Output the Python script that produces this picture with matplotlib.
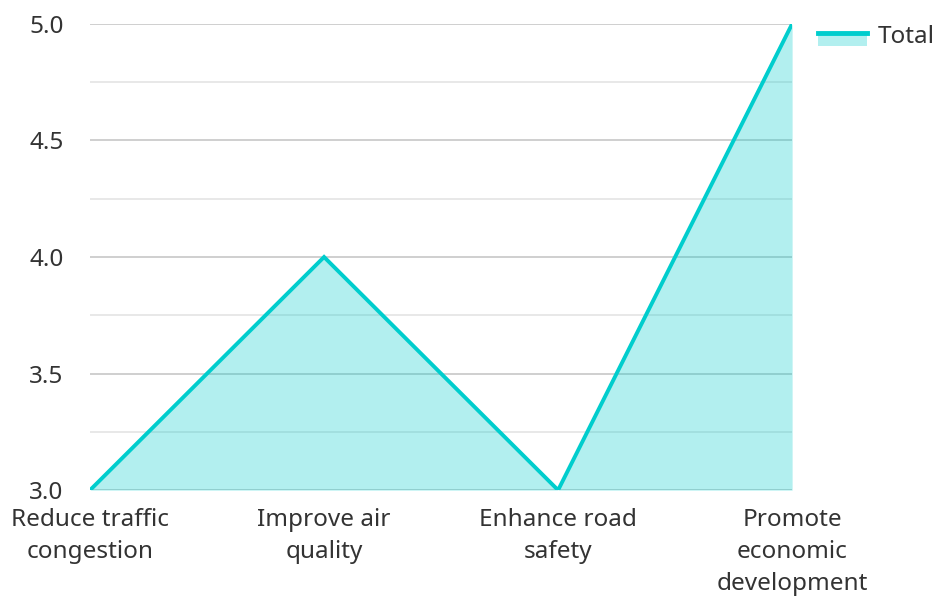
import matplotlib
matplotlib.use("Agg")
import matplotlib.pyplot as plt
from matplotlib.lines import Line2D
from matplotlib.patches import Patch, Rectangle
from matplotlib.legend_handler import HandlerBase
from matplotlib.ticker import MultipleLocator

plt.rcParams['font.family'] = ['Noto Sans', 'DejaVu Sans']

categories = ["Reduce traffic\ncongestion", "Improve air\nquality", "Enhance road\nsafety", "Promote\neconomic\ndevelopment"]
values = [3.0, 4.0, 3.0, 5.0]
series_name = "Total"

line_color = "#00CDCD"
fill_color = "#00CDCD"
text_color = "#333333"
fs = 17.5

fig = plt.figure(figsize=(9.33, 5.97), dpi=100)
ax = fig.add_axes([0.0965, 0.179, 0.7525, 0.781])

x = list(range(len(categories)))
ax.fill_between(x, values, 3.0, color=fill_color, alpha=0.3, linewidth=0, zorder=3)
ax.plot(x, values, color=line_color, linewidth=2.8, zorder=4, solid_joinstyle='miter')

ax.set_xlim(0, len(categories) - 1)
ax.set_ylim(3.0, 5.0)
ax.yaxis.set_minor_locator(MultipleLocator(0.25))
ax.set_yticks([3.0, 3.5, 4.0, 4.5, 5.0])
ax.set_yticklabels(["3.0", "3.5", "4.0", "4.5", "5.0"])
ax.set_xticks(x)
ax.set_xticklabels(categories, linespacing=1.45)

ax.grid(axis='y', which='major', color='#cccccc', linewidth=1.3, zorder=1)
ax.grid(axis='y', which='minor', color='#e6e6e6', linewidth=1.3, zorder=1)
ax.grid(axis='x', visible=False)
for s in ax.spines.values():
    s.set_visible(False)
ax.tick_params(axis='both', which='both', length=0, labelsize=fs, colors=text_color)
ax.tick_params(axis='y', pad=19)
ax.tick_params(axis='x', pad=13)


class AreaHandler(HandlerBase):
    def create_artists(self, legend, orig_handle, xdescent, ydescent, width, height, fontsize, trans):
        ly = -ydescent + 0.55 * height
        rect = Rectangle((-xdescent, ly - 0.75 * height), width, 0.75 * height,
                         facecolor=fill_color, alpha=0.3, edgecolor='none', transform=trans)
        line = Line2D([-xdescent, -xdescent + width], [ly, ly], color=line_color, linewidth=3.5,
                      transform=trans)
        return [rect, line]


handle = Patch(facecolor=fill_color)
leg = ax.legend([handle], [series_name], loc='upper left', bbox_to_anchor=(1.006, 1.045),
                frameon=False, fontsize=fs, handler_map={Patch: AreaHandler()},
                handlelength=2.0, handletextpad=0.45, borderaxespad=0.5)
for t in leg.get_texts():
    t.set_color(text_color)

fig.savefig("out.png", dpi=100)
